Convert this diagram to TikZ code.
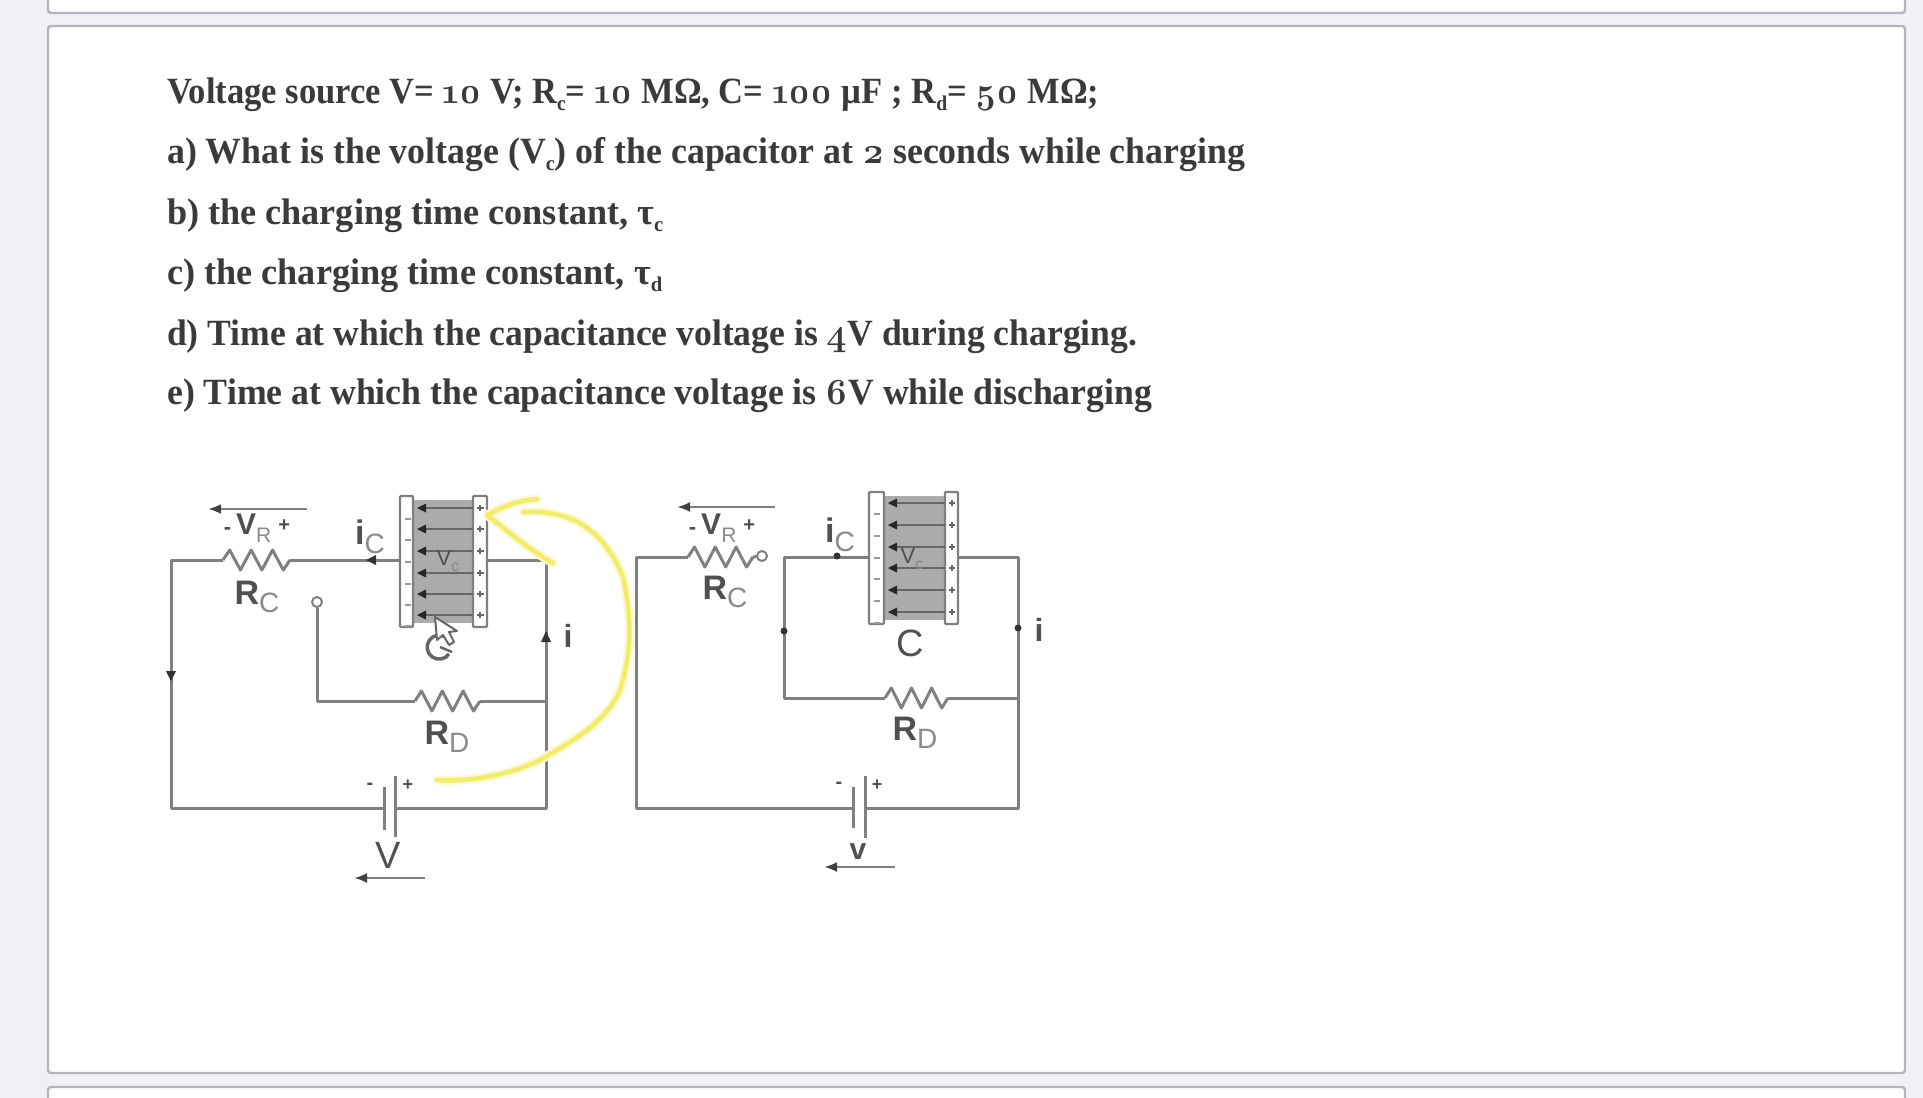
\documentclass[tikz,border=0pt]{standalone}
\usepackage{fontspec}
\usepackage{graphicx}
\usetikzlibrary{arrows.meta,calc}
\setmainfont{Liberation Serif}
\setsansfont{Liberation Sans}
\newfontfamily\osn[Numbers=OldStyle]{Latin Modern Roman}
\definecolor{pagebg}{HTML}{F2F0F7}
\definecolor{panelline}{HTML}{B4B4B8}
\definecolor{wire}{HTML}{808080}
\definecolor{ink}{HTML}{3A3A3A}
\definecolor{lab}{HTML}{505050}
\definecolor{labsub}{HTML}{8A8A8A}
\definecolor{plate}{HTML}{ABABAB}
\definecolor{hl}{HTML}{F3EC6A}
\newcommand{\dg}[1]{{\osn\bfseries #1}}
\newcommand{\sbs}[1]{\raisebox{-0.2em}{\fontsize{21}{21}\selectfont #1}}
\newcommand{\qline}[2]{\resizebox{#1pt}{\height}{\fontsize{37}{40}\selectfont\bfseries #2}}
\newcommand{\sublab}[3]{\fontsize{#3}{#3}\selectfont\sffamily\color{lab}#1\raisebox{-0.25em}{\fontsize{\numexpr#3-6\relax}{#3}\selectfont\mdseries\color{labsub}#2}}
\tikzset{
  x=1pt,y=-1pt,
  panel/.style={draw=panelline,line width=2.4pt,fill=white,rounded corners=3pt},
  qtext/.style={anchor=base west,inner sep=0pt,text=ink},
  wireline/.style={draw=wire,line width=3pt,line join=round},
  arrowline/.style={draw=wire,line width=2.8pt,-{Latex[length=13pt,width=10pt,color=black!75]}},
  lbl/.style={inner sep=0pt,text=lab,font=\sffamily},
  terminal/.style={circle,draw=wire,line width=2pt,fill=white,minimum size=10pt,inner sep=0pt},
  hilite/.style={draw=hl,line width=4.5pt,line cap=round,line join=round},
  hilitehalo/.style={draw=hl!30,line width=9pt,line cap=round,line join=round},
}
% #1 name prefix; #2 x left; #3 y; #4 x right : zigzag resistor
\newcommand{\zigzag}[4]{%
  \coordinate (#1a) at (#2,#3);
  \coordinate (#1b) at (#4,#3);
  \draw[wireline] (#1a)
   -- ($(#1a)!0.10!(#1b)+(0,-10)$) -- ($(#1a)!0.26!(#1b)+(0,10)$)
   -- ($(#1a)!0.42!(#1b)+(0,-10)$) -- ($(#1a)!0.58!(#1b)+(0,10)$)
   -- ($(#1a)!0.74!(#1b)+(0,-10)$) -- ($(#1a)!0.90!(#1b)+(0,10)$) -- (#1b);
}
% #1 left x; #2 right x; #3 top y; #4 bottom y; #5 inner left; #6 inner right; #7 list of field y
\newcommand{\capacitor}[7]{%
  \fill[plate] (#5,#3+4) rectangle (#6,#4-4);
  \draw[draw=wire,line width=2.4pt,fill=white,rounded corners=1pt] (#1,#3) rectangle (#5,#4);
  \draw[draw=wire,line width=2.4pt,fill=white,rounded corners=1pt] (#6,#3) rectangle (#2,#4);
  \foreach \fy in {#7}{
    \draw[draw=black!60,line width=2.5pt] (#5+6,\fy) -- (#6,\fy);
    \fill[black!85] (#5+4,\fy) -- (#5+13,\fy-4.5) -- (#5+13,\fy+4.5) -- cycle;
    \draw[black!60,line width=1.5pt] (#6+4,\fy) -- (#2-3,\fy) (#6+7,\fy-3) -- (#6+7,\fy+3);
    \draw[black!40,line width=1.2pt] (#1+5,\fy+11) -- (#1+11,\fy+11);
  }
}
\begin{document}
\begin{tikzpicture}
\useasboundingbox (0,0) rectangle (1923,1098);
\fill[pagebg] (0,0) rectangle (1923,1098);
% panels
\draw[panel] (48,-20) rectangle (1905,13);
\draw[panel] (48,26) rectangle (1905,1073);
\draw[panel] (48,1087) rectangle (1905,1130);
% question text
\node[qtext] (q0) at (167,103) {\qline{932}{Voltage source V= \dg{10} V; R\sbs{c}= \dg{10} MΩ, C= \dg{100} µF ; R\sbs{d}= \dg{50} MΩ;}};
\node[qtext] (q1) at (167,163) {\qline{1078}{a) What is the voltage (V\sbs{c}) of the capacitor at \dg{2} seconds while charging}};
\node[qtext] (q2) at (167,224) {\qline{496}{b) the charging time constant, τ\sbs{c}}};
\node[qtext] (q3) at (167,284) {\qline{495}{c) the charging time constant, τ\sbs{d}}};
\node[qtext] (q4) at (167,345) {\qline{970}{d) Time at which the capacitance voltage is \dg{4}V during charging.}};
\node[qtext] (q5) at (167,404) {\qline{985}{e) Time at which the capacitance voltage is \dg{6}V while discharging}};

% ---------- left circuit ----------
\coordinate (ltl) at (171,560);
\coordinate (lbl) at (171,808);
\coordinate (lbr) at (546,808);
\coordinate (ltr) at (546,560);
\coordinate (lcapL) at (400,560);
\coordinate (lcapR) at (487,560);
\coordinate (lrdr) at (546,701);
\coordinate (lbat1) at (384,808);
\coordinate (lbat2) at (395,808);
\coordinate (lterm0) at (317,701);
\zigzag{lrc}{223}{560}{290}
\zigzag{lrd}{415}{701}{480}
\node[terminal] (lterm) at (317,602) {};
\draw[wireline] (lrca) -- (ltl) -- (lbl) -- (lbat1);
\draw[wireline] (lbat2) -- (lbr) -- (ltr) -- (lcapR);
\draw[wireline] (lrcb) -- (lcapL);
\draw[wireline] (lterm) -- (lterm0) -- (lrda);
\draw[wireline] (lrdb) -- (lrdr);
\capacitor{400}{487}{496}{627}{413}{473}{508,529,551,573,594,615}
% battery
\draw[draw=wire,line width=3pt] (384,787) -- (384,830);
\draw[draw=wire,line width=3pt] (395,776) -- (395,837);
% direction marks
\fill[black!80] (366,560) -- (376,555) -- (376,565) -- cycle;
\fill[black!80] (171,681) -- (166,671) -- (176,671) -- cycle;
\fill[black!80] (546,631) -- (541,642) -- (551,642) -- cycle;
% arrows
\coordinate (lvrs) at (307,509); \coordinate (lvre) at (208,509);
\draw[arrowline] (lvrs) -- (lvre);
\coordinate (lvs) at (425,878); \coordinate (lve) at (354,878);
\draw[arrowline] (lvs) -- (lve);
% labels
\node[lbl] (lvr) at (257,528) {\sublab{\fontsize{22}{22}\selectfont\bfseries -\hspace{5pt}\fontsize{30}{30}\selectfont V}{R\hspace{7pt}\raisebox{0.5em}{\fontsize{20}{20}\selectfont\bfseries\color{lab}+}}{27}};
\node[lbl] (lrcl) at (257,597) {\sublab{\bfseries R}{C}{34}};
\node[lbl] (lrdl) at (447,737) {\sublab{\bfseries R}{D}{34}};
\node[lbl] (lic) at (370,537) {\sublab{\bfseries i}{C}{34}};
\node[lbl] (li) at (568,636) {\fontsize{32}{32}\selectfont\bfseries i};
\node[lbl] (lv) at (388,855) {\fontsize{38}{38}\selectfont V};
\node[lbl] (lvc) at (448,561) {\sublab{V}{c}{22}};
\node[lbl] (lminus) at (370,786) {\fontsize{20}{20}\selectfont\bfseries -};
\node[lbl] (lplus) at (408,785) {\fontsize{18}{18}\selectfont\bfseries +};
% cursor
\draw[draw=black!60,line width=3.5pt] (449,654) arc (35:335:12);
\draw[draw=black!60,line width=2.5pt] (440,647) -- (452,652);
\draw[draw=black!60,line width=2pt,fill=white,line join=round] (435,617) -- (437,640) -- (443,635) -- (449,645) -- (454,642) -- (449,632) -- (457,631) -- cycle;

% ---------- yellow highlight ----------
\draw[hilitehalo] (537,499) .. controls (515,501) and (503,507) .. (487,515) .. controls (510,533) and (530,550) .. (553,563);
\draw[hilitehalo] (523,512) .. controls (560,510) and (600,520) .. (623,577) .. controls (632,620) and (632,650) .. (620,690) .. controls (605,725) and (565,745) .. (540,760) .. controls (510,775) and (470,782) .. (437,780);
\draw[hilite] (537,499) .. controls (515,501) and (503,507) .. (487,515) .. controls (510,533) and (530,550) .. (553,563);
\draw[hilite] (523,512) .. controls (560,510) and (600,520) .. (623,577) .. controls (632,620) and (632,650) .. (620,690) .. controls (605,725) and (565,745) .. (540,760) .. controls (510,775) and (470,782) .. (437,780);

% ---------- right circuit ----------
\coordinate (rtl) at (636,557);
\coordinate (rbl) at (636,808);
\coordinate (rbr) at (1018,808);
\coordinate (rtr) at (1018,557);
\coordinate (ril) at (784,557);
\coordinate (rib) at (784,698);
\coordinate (rcapL) at (869,557);
\coordinate (rcapR) at (958,557);
\coordinate (rrdr) at (1018,698);
\coordinate (rbat1) at (853,808);
\coordinate (rbat2) at (865,808);
\zigzag{rrc}{688}{557}{753}
\zigzag{rrd}{885}{698}{948}
\node[terminal] (rterm) at (762,556) {};
\draw[wireline] (rrca) -- (rtl) -- (rbl) -- (rbat1);
\draw[wireline] (rrcb) -- (rterm);
\draw[wireline] (rbat2) -- (rbr) -- (rtr) -- (rcapR);
\draw[wireline] (rcapL) -- (ril) -- (rib) -- (rrda);
\draw[wireline] (rrdb) -- (rrdr);
\capacitor{869}{958}{492}{624}{884}{945}{503,525,547,568,590,612}
\draw[draw=wire,line width=3pt] (853,787) -- (853,828);
\draw[draw=wire,line width=3pt] (865,776) -- (865,838);
\fill[black!80] (837,556) circle (3.5pt);
\fill[black!80] (784,631) circle (3.5pt);
\fill[black!80] (1018,628) circle (3.5pt);
\coordinate (rvrs) at (775,507); \coordinate (rvre) at (677,507);
\draw[arrowline] (rvrs) -- (rvre);
\coordinate (rvs) at (895,867); \coordinate (rve) at (824,867);
\draw[arrowline] (rvs) -- (rve);
\node[lbl] (rvr) at (722,528) {\sublab{\fontsize{22}{22}\selectfont\bfseries -\hspace{5pt}\fontsize{30}{30}\selectfont V}{R\hspace{7pt}\raisebox{0.5em}{\fontsize{20}{20}\selectfont\bfseries\color{lab}+}}{27}};
\node[lbl] (rrcl) at (725,592) {\sublab{\bfseries R}{C}{34}};
\node[lbl] (rrdl) at (915,733) {\sublab{\bfseries R}{D}{34}};
\node[lbl] (ric) at (840,535) {\sublab{\bfseries i}{C}{34}};
\node[lbl] (ri) at (1039,630) {\fontsize{32}{32}\selectfont\bfseries i};
\node[lbl] (rc) at (910,643) {\fontsize{38}{38}\selectfont C};
\node[lbl] (rv) at (858,852) {\fontsize{30}{30}\selectfont\bfseries v};
\node[lbl] (rvc) at (912,559) {\sublab{V}{c}{22}};
\node[lbl] (rminus) at (839,785) {\fontsize{20}{20}\selectfont\bfseries -};
\node[lbl] (rplus) at (877,785) {\fontsize{18}{18}\selectfont\bfseries +};
\end{tikzpicture}
\end{document}
